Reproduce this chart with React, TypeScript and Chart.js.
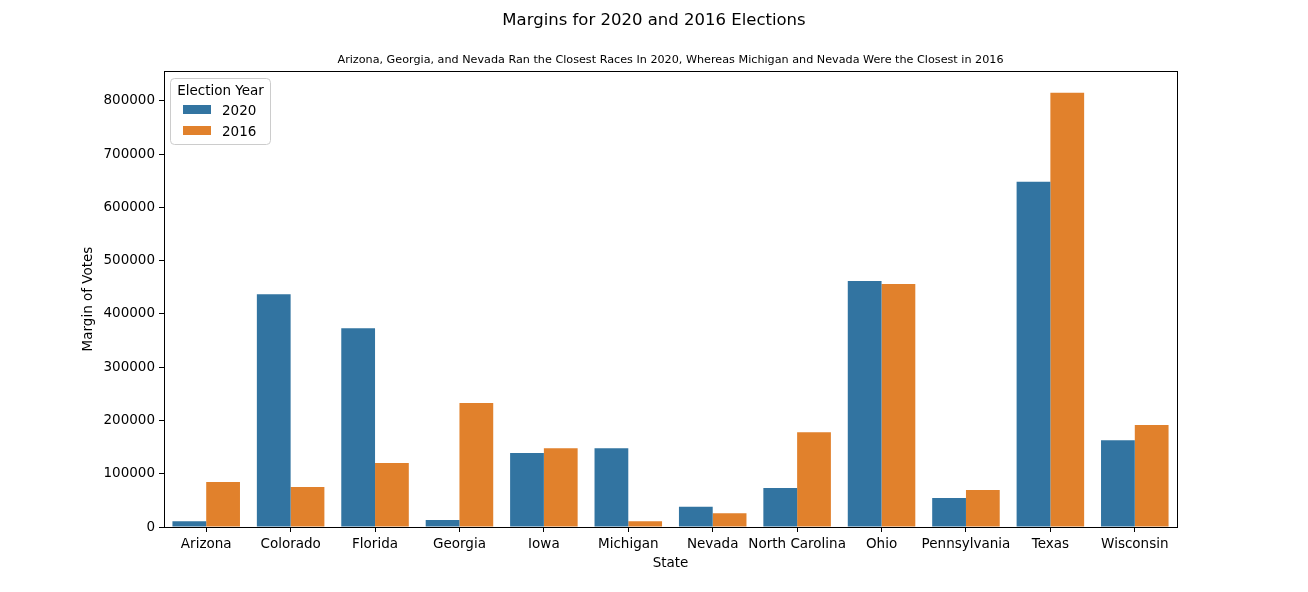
import React, { useEffect, useRef } from "react";
import { Chart, registerables } from "chart.js";

Chart.register(...registerables);

const states = ["Arizona", "Colorado", "Florida", "Georgia", "Iowa", "Michigan", "Nevada", "North Carolina", "Ohio", "Pennsylvania", "Texas", "Wisconsin"];
const margins2020 = [11000, 437000, 373000, 13000, 139000, 148000, 38000, 73000, 462000, 54500, 648000, 163000];
const margins2016 = [84500, 75000, 120000, 233000, 148000, 11000, 26000, 178000, 456000, 69500, 815000, 191500];
const yTicks = [0, 100000, 200000, 300000, 400000, 500000, 600000, 700000, 800000];
const seriesLabels = ["2020", "2016"];
const colors = ["#3274a1", "#e1812c"];

const FONT = "'DejaVu Sans', sans-serif";

export default function App() {
  const ref = useRef<HTMLCanvasElement>(null);
  useEffect(() => {
    document.body.style.margin = "0";
    const canvas = ref.current!;
    const overlay = {
      id: "overlay",
      afterDraw(chart: any) {
        const ctx = chart.ctx as CanvasRenderingContext2D;
        const a = chart.chartArea;
        ctx.save();
        ctx.strokeStyle = "#000";
        ctx.lineWidth = 1;
        ctx.strokeRect(Math.round(a.left) + 0.5, Math.round(a.top) + 0.5, Math.round(a.right - a.left), Math.round(a.bottom - a.top));
        ctx.fillStyle = "#000";
        ctx.textAlign = "center";
        ctx.textBaseline = "middle";
        ctx.font = `16.5px ${FONT}`;
        ctx.fillText("Margins for 2020 and 2016 Elections", 654, 21);
        ctx.font = `11.2px ${FONT}`;
        ctx.fillText("Arizona, Georgia, and Nevada Ran the Closest Races In 2020, Whereas Michigan and Nevada Were the Closest in 2016", (a.left + a.right) / 2, 60);
        ctx.font = `13.5px ${FONT}`;
        ctx.fillText("State", (a.left + a.right) / 2, 563);
        ctx.save();
        ctx.translate(88, (a.top + a.bottom) / 2);
        ctx.rotate(-Math.PI / 2);
        ctx.fillText("Margin of Votes", 0, 0);
        ctx.restore();
        const lx = 170.5, ly = 78.5, lw = 100, lh = 66, r = 4;
        ctx.beginPath();
        ctx.moveTo(lx + r, ly);
        ctx.lineTo(lx + lw - r, ly);
        ctx.quadraticCurveTo(lx + lw, ly, lx + lw, ly + r);
        ctx.lineTo(lx + lw, ly + lh - r);
        ctx.quadraticCurveTo(lx + lw, ly + lh, lx + lw - r, ly + lh);
        ctx.lineTo(lx + r, ly + lh);
        ctx.quadraticCurveTo(lx, ly + lh, lx, ly + lh - r);
        ctx.lineTo(lx, ly + r);
        ctx.quadraticCurveTo(lx, ly, lx + r, ly);
        ctx.closePath();
        ctx.fillStyle = "rgba(255,255,255,0.8)";
        ctx.fill();
        ctx.strokeStyle = "#cccccc";
        ctx.stroke();
        ctx.fillStyle = "#000";
        ctx.font = `13.5px ${FONT}`;
        ctx.textAlign = "center";
        ctx.fillText("Election Year", 220.5, 91);
        ctx.textAlign = "left";
        seriesLabels.forEach((lab, i) => {
          const y = 105 + i * 21;
          ctx.fillStyle = colors[i];
          ctx.fillRect(183, y, 28, 9);
          ctx.fillStyle = "#000";
          ctx.fillText(lab, 222, y + 6);
        });
        ctx.restore();
      },
    };
    const chart = new Chart(canvas, {
      type: "bar",
      data: {
        labels: states,
        datasets: [
          { label: seriesLabels[0], data: margins2020, backgroundColor: colors[0], borderWidth: 0, categoryPercentage: 0.8, barPercentage: 1.0 },
          { label: seriesLabels[1], data: margins2016, backgroundColor: colors[1], borderWidth: 0, categoryPercentage: 0.8, barPercentage: 1.0 },
        ],
      },
      options: {
        animation: false,
        responsive: false,
        devicePixelRatio: 1,
        layout: { padding: { left: 0, right: 131, top: 71, bottom: 0 } },
        plugins: { legend: { display: false }, title: { display: false }, tooltip: { enabled: false } },
        scales: {
          x: {
            offset: true,
            grid: { drawOnChartArea: false, drawTicks: true, tickLength: 5, color: "#000", offset: false },
            border: { display: true, color: "#000" },
            ticks: { color: "#000", font: { family: FONT, size: 13.5 }, padding: 4, maxRotation: 0, autoSkip: false },
            afterFit: (s: any) => { s.height = 65; },
          },
          y: {
            min: 0,
            max: 856000,
            grid: { drawOnChartArea: false, drawTicks: true, tickLength: 5, color: "#000" },
            border: { display: true, color: "#000" },
            ticks: { color: "#000", font: { family: FONT, size: 13.5 }, padding: 4, callback: (v: any) => String(v) },
            afterBuildTicks: (s: any) => { s.ticks = yTicks.map((v) => ({ value: v })); },
            afterFit: (s: any) => { s.width = 164; },
          },
        },
      },
      plugins: [overlay],
    });
    return () => chart.destroy();
  }, []);
  return (
    <div style={{ position: "fixed", left: 0, top: 0, width: 1308, height: 592, background: "#fff" }}>
      <canvas ref={ref} width={1308} height={592} style={{ width: 1308, height: 592 }} />
    </div>
  );
}
